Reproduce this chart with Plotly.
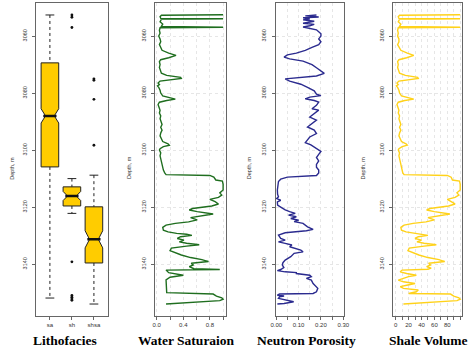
import plotly.graph_objects as go

# ---------------- Lithofacies boxplot statistics (depth, m) ----------------
facies = ["sa", "sh", "shsa"]
facies_pos = [1, 2, 3]
box_whisk_top = [3052.6, 3110.0, 3108.8]
box_q1 = [3069.4, 3112.9, 3119.9]
box_median = [3088.0, 3116.1, 3131.3]
box_q3 = [3105.9, 3119.6, 3139.6]
box_whisk_bot = [3151.9, 3122.2, 3154.0]
box_notchspan = [2.5, 1.6, 3.0]
outlier_pos = [2, 2, 2, 2, 2, 2, 2, 2, 3, 3, 3, 3]
outlier_depth = [3052.6, 3053.4, 3057.0, 3139.2, 3151.0, 3151.6, 3152.2, 3152.7,
                 3075.0, 3075.5, 3082.2, 3098.3]

# ---------------- Water saturation ----------------
sw_depth = [3052.5, 3052.7, 3053.2, 3053.8, 3053.9, 3054.1, 3055.0, 3055.8, 3056.6, 3056.9,
            3057.1, 3058.0, 3059.0, 3060.0, 3061.0, 3062.0, 3063.0, 3064.0, 3065.0, 3066.0,
            3066.8, 3067.6, 3068.3, 3069.0, 3070.0, 3071.0, 3072.0, 3073.0, 3073.8, 3074.5,
            3074.9, 3075.3, 3075.8, 3076.5, 3077.0, 3077.5, 3078.0, 3079.0, 3080.0, 3081.0,
            3081.6, 3082.1, 3082.6, 3083.2, 3084.0, 3085.0, 3086.0, 3087.0, 3088.0, 3089.0,
            3090.0, 3091.0, 3092.0, 3093.0, 3094.0, 3095.0, 3096.0, 3097.0, 3097.8, 3098.3,
            3098.8, 3099.5, 3100.0, 3101.0, 3102.0, 3103.0, 3104.0, 3105.0, 3106.0, 3107.0,
            3108.0, 3108.6, 3108.9, 3109.5, 3110.5, 3110.9, 3112.0, 3114.0, 3115.0, 3115.8,
            3116.6, 3117.3, 3118.1, 3118.9, 3119.6, 3120.5, 3121.0, 3121.6, 3122.4, 3123.0,
            3123.7, 3124.5, 3125.2, 3125.7, 3126.3, 3127.1, 3128.1, 3128.7, 3129.2, 3129.5,
            3129.9, 3130.4, 3131.0, 3131.6, 3132.2, 3132.7, 3133.2, 3133.7, 3134.4, 3135.3,
            3136.2, 3136.8, 3137.7, 3138.4, 3139.1, 3139.7, 3140.3, 3140.9, 3141.6, 3141.9,
            3142.1, 3143.0, 3143.9, 3144.6, 3145.5, 3147.0, 3148.5, 3150.0, 3150.5, 3151.2,
            3151.8, 3152.3, 3152.8, 3154.0]
sw_value = [1.00, 0.07, 0.05, 0.06, 1.00, 0.07, 0.05, 0.09, 0.07, 1.00,
            0.05, 0.04, 0.05, 0.03, 0.05, 0.06, 0.04, 0.06, 0.08, 0.18,
            0.29, 0.18, 0.06, 0.04, 0.05, 0.04, 0.06, 0.07, 0.15, 0.36,
            0.37, 0.22, 0.05, 0.02, 0.04, 0.01, 0.03, 0.05, 0.06, 0.09,
            0.22, 0.28, 0.15, 0.04, 0.02, 0.03, 0.05, 0.04, 0.06, 0.05,
            0.07, 0.08, 0.06, 0.08, 0.06, 0.05, 0.07, 0.09, 0.17, 0.19,
            0.10, 0.05, 0.04, 0.06, 0.05, 0.06, 0.07, 0.07, 0.08, 0.10,
            0.12, 0.14, 0.80, 0.86, 0.89, 0.99, 1.00, 1.00, 0.95, 0.98,
            0.93, 0.80, 0.88, 0.93, 0.83, 0.54, 0.49, 0.61, 0.85, 0.66,
            0.51, 0.61, 0.48, 0.28, 0.14, 0.09, 0.10, 0.17, 0.30, 0.45,
            0.53, 0.36, 0.31, 0.41, 0.34, 0.45, 0.64, 0.45, 0.22, 0.20,
            0.29, 0.37, 0.51, 0.68, 0.78, 0.52, 0.55, 0.49, 0.56, 0.95,
            0.14, 0.18, 0.40, 0.20, 0.14, 0.14, 0.15, 0.15, 0.85, 0.90,
            0.98, 1.00, 0.95, 0.14]

# ---------------- Neutron porosity ----------------
nphi_depth = [3052.6, 3052.9, 3053.3, 3053.6, 3054.0, 3054.3, 3054.8, 3055.2, 3055.5, 3055.9,
              3056.4, 3056.8, 3057.2, 3057.8, 3058.5, 3059.2, 3060.0, 3061.0, 3062.0, 3063.0,
              3064.0, 3065.0, 3066.0, 3066.6, 3067.4, 3068.0, 3068.8, 3070.0, 3071.1, 3072.3,
              3073.1, 3074.0, 3074.6, 3075.0, 3075.8, 3076.9, 3078.0, 3079.2, 3080.4, 3080.9,
              3081.4, 3082.0, 3082.6, 3083.2, 3084.3, 3085.5, 3086.0, 3087.2, 3088.4, 3089.5,
              3090.7, 3091.9, 3093.0, 3094.2, 3095.4, 3096.5, 3097.4, 3098.2, 3099.4, 3100.5,
              3101.5, 3102.6, 3103.8, 3105.0, 3106.0, 3107.0, 3108.0, 3108.9, 3109.5, 3110.2,
              3111.0, 3112.5, 3114.0, 3115.5, 3116.4, 3117.0, 3117.6, 3118.2, 3119.3, 3120.0,
              3121.0, 3121.6, 3122.2, 3122.8, 3123.4, 3124.0, 3124.6, 3125.1, 3125.7, 3126.9,
              3127.8, 3128.3, 3129.0, 3129.8, 3131.0, 3131.6, 3132.2, 3132.7, 3133.3, 3133.9,
              3135.1, 3135.7, 3136.2, 3137.4, 3138.6, 3139.5, 3140.3, 3141.2, 3141.9, 3142.3,
              3142.7, 3143.0, 3143.3, 3143.9, 3144.4, 3145.0, 3145.6, 3146.8, 3148.0, 3148.5,
              3149.7, 3150.3, 3150.5, 3150.9, 3151.2, 3151.5, 3152.0, 3152.6, 3153.2, 3153.8,
              3154.0]
nphi_value = [0.18, 0.13, 0.19, 0.12, 0.15, 0.12, 0.17, 0.14, 0.12, 0.17,
              0.15, 0.12, 0.15, 0.18, 0.19, 0.20, 0.20, 0.19, 0.20, 0.19,
              0.16, 0.13, 0.09, 0.05, 0.035, 0.06, 0.12, 0.16, 0.18, 0.20,
              0.215, 0.18, 0.08, 0.04, 0.06, 0.11, 0.14, 0.17, 0.18, 0.20,
              0.15, 0.13, 0.17, 0.19, 0.18, 0.16, 0.19, 0.17, 0.15, 0.18,
              0.16, 0.14, 0.17, 0.18, 0.15, 0.14, 0.13, 0.155, 0.18, 0.20,
              0.19, 0.18, 0.19, 0.18, 0.18, 0.19, 0.19, 0.18, 0.05, 0.02,
              0.01, 0.006, 0.005, 0.006, 0.01, 0.002, 0.02, 0.005, 0.006, 0.02,
              0.04, 0.06, 0.085, 0.055, 0.09, 0.065, 0.10, 0.08, 0.12, 0.14,
              0.165, 0.135, 0.04, 0.01, 0.02, 0.04, 0.01, 0.04, 0.07, 0.06,
              0.11, 0.12, 0.08, 0.065, 0.04, 0.03, 0.027, 0.034, 0.02, 0.005,
              0.04, 0.09, 0.09, 0.15, 0.157, 0.135, 0.157, 0.165, 0.18, 0.186,
              0.18, 0.165, 0.015, 0.005, 0.035, 0.015, 0.01, 0.04, 0.078, 0.035,
              0.005]

# ---------------- Shale volume ----------------
vsh_depth = [3052.5, 3052.7, 3053.2, 3053.8, 3053.9, 3054.1, 3055.0, 3055.8, 3056.6, 3056.9,
             3057.1, 3058.0, 3059.0, 3060.0, 3061.0, 3062.0, 3063.0, 3064.0, 3065.0, 3066.0,
             3066.8, 3067.6, 3068.3, 3069.0, 3070.0, 3071.0, 3072.0, 3073.0, 3073.8, 3074.5,
             3074.9, 3075.3, 3075.8, 3076.5, 3077.0, 3077.5, 3078.0, 3079.0, 3080.0, 3081.0,
             3081.6, 3082.1, 3082.6, 3083.2, 3084.0, 3085.0, 3086.0, 3087.0, 3088.0, 3089.0,
             3090.0, 3091.0, 3092.0, 3093.0, 3094.0, 3095.0, 3096.0, 3097.0, 3097.8, 3098.3,
             3098.8, 3099.5, 3100.0, 3101.0, 3102.0, 3103.0, 3104.0, 3105.0, 3106.0, 3107.0,
             3108.0, 3108.6, 3108.9, 3109.5, 3110.5, 3110.9, 3112.0, 3114.0, 3115.0, 3115.8,
             3116.6, 3117.3, 3118.1, 3118.9, 3119.6, 3120.5, 3121.0, 3121.6, 3122.4, 3123.0,
             3123.7, 3124.5, 3125.2, 3125.7, 3126.3, 3127.1, 3128.1, 3128.7, 3129.2, 3129.5,
             3129.9, 3130.4, 3131.0, 3131.6, 3132.2, 3132.7, 3133.2, 3133.7, 3134.4, 3135.3,
             3136.2, 3136.8, 3137.7, 3138.4, 3139.1, 3139.7, 3140.3, 3140.9, 3141.4, 3141.8,
             3142.1, 3142.7, 3143.3, 3143.9, 3144.4, 3145.0, 3145.6, 3146.2, 3146.8, 3147.4,
             3147.9, 3148.5, 3149.1, 3149.7, 3150.3, 3150.5, 3151.2, 3151.8, 3152.3, 3152.8,
             3154.0]
vsh_value = [100, 6, 4, 5, 100, 6, 4, 8, 6, 100,
             4, 3, 4, 3, 5, 5, 3, 5, 8, 18,
             28, 17, 5, 3, 4, 3, 5, 6, 15, 34,
             35, 20, 5, 2, 4, 1, 3, 5, 6, 9,
             21, 28, 14, 4, 2, 3, 5, 4, 6, 5,
             7, 8, 6, 8, 6, 5, 7, 9, 16, 18,
             10, 5, 4, 6, 5, 6, 7, 7, 8, 10,
             11, 13, 80, 86, 88, 99, 100, 100, 95, 98,
             92, 80, 87, 92, 82, 53, 48, 60, 84, 65,
             50, 60, 47, 27, 13, 8, 9, 16, 30, 44,
             50, 35, 30, 40, 33, 44, 63, 44, 21, 19,
             28, 36, 50, 67, 76, 51, 54, 48, 55, 50,
             10, 7, 17, 32, 20, 10, 4, 12, 30, 17,
             7, 12, 35, 32, 20, 85, 90, 98, 100, 95,
             12]

depth_ticks = [3060, 3080, 3100, 3120, 3140]
depth_range = [3158.2, 3048.4]

W, H = 474, 350
def px(x):
    return x / W
def py(y):
    return 1 - y / H

ydom = [py(316), py(3)]
xdoms = [[px(32), px(105)], [px(154), px(226)], [px(277), px(347)], [px(397), px(468)]]

fig = go.Figure()

# Boxplot (panel 1)
fig.add_trace(go.Box(
    x=facies_pos, q1=box_q1, median=box_median, q3=box_q3,
    lowerfence=box_q1, upperfence=box_q3, notched=True, notchspan=box_notchspan,
    notchwidth=0.25, width=0.8, boxpoints=False, fillcolor="#FFCC00",
    line=dict(color="#222222", width=1), whiskerwidth=0,
    xaxis="x", yaxis="y", showlegend=False, hoverinfo="skip"))

# whiskers (dotted) and caps
for i, p in enumerate(facies_pos):
    fig.add_trace(go.Scatter(x=[p, p], y=[box_whisk_top[i], box_q1[i]], mode="lines",
                             line=dict(color="#222222", width=1, dash="dot"),
                             xaxis="x", yaxis="y", showlegend=False))
    fig.add_trace(go.Scatter(x=[p, p], y=[box_q3[i], box_whisk_bot[i]], mode="lines",
                             line=dict(color="#222222", width=1, dash="dot"),
                             xaxis="x", yaxis="y", showlegend=False))
    for yv in (box_whisk_top[i], box_whisk_bot[i]):
        fig.add_trace(go.Scatter(x=[p - 0.2, p + 0.2], y=[yv, yv], mode="lines",
                                 line=dict(color="#222222", width=1),
                                 xaxis="x", yaxis="y", showlegend=False))
    fig.add_trace(go.Scatter(x=[p - 0.3, p + 0.3], y=[box_median[i], box_median[i]], mode="lines",
                             line=dict(color="#111111", width=2.5),
                             xaxis="x", yaxis="y", showlegend=False))

fig.add_trace(go.Scatter(x=outlier_pos, y=outlier_depth, mode="markers",
                         marker=dict(symbol="circle", size=2.8, color="#111111"),
                         xaxis="x", yaxis="y", showlegend=False))

fig.add_trace(go.Scatter(x=sw_value, y=sw_depth, mode="lines",
                         line=dict(color="#1f6e1f", width=1.4),
                         xaxis="x2", yaxis="y2", showlegend=False))
fig.add_trace(go.Scatter(x=nphi_value, y=nphi_depth, mode="lines",
                         line=dict(color="#2b2b8f", width=1.4),
                         xaxis="x3", yaxis="y3", showlegend=False))
fig.add_trace(go.Scatter(x=vsh_value, y=vsh_depth, mode="lines",
                         line=dict(color="#FFD21A", width=1.4),
                         xaxis="x4", yaxis="y4", showlegend=False))

axcommon = dict(showline=True, mirror=True, linecolor="#666666", linewidth=1,
                ticks="outside", ticklen=3, tickcolor="#666666", zeroline=False,
                tickfont=dict(family="Liberation Sans, Arial", size=6, color="#333333"))

def yaxis_cfg(i, grid):
    d = dict(axcommon)
    d.update(domain=ydom, range=depth_range, tickvals=depth_ticks,
             ticktext=[str(t) for t in depth_ticks], tickangle=-90,
             anchor="x" if i == 1 else "x%d" % i, ticklabelstandoff=3,
             showgrid=grid, gridcolor="#e6e6e6", griddash="dot", gridwidth=1,
             tickfont=dict(family="Liberation Sans, Arial", size=5.5, color="#333333"))
    return d

def xaxis_cfg(i, rng, tv, tt, grid):
    d = dict(axcommon)
    d.update(domain=xdoms[i - 1], range=rng, tickvals=tv, ticktext=tt, tickangle=0,
             anchor="y" if i == 1 else "y%d" % i,
             showgrid=grid, gridcolor="#e6e6e6", griddash="dot", gridwidth=1)
    return d

sw_ticks = [0, 0.2, 0.4, 0.6, 0.8, 1.0]
sw_labels = ["0.0", "", "0.4", "", "0.8", ""]
nphi_ticks = [0, 0.05, 0.10, 0.15, 0.20, 0.25, 0.30]
nphi_labels = ["0.00", "", "0.10", "", "0.20", "", "0.30"]
vsh_ticks = [0, 10, 20, 30, 40, 50, 60, 70, 80, 90, 100]
vsh_labels = ["0", "", "20", "", "40", "", "60", "", "80", "", ""]

layout = dict(
    width=W, height=H, margin=dict(l=0, r=0, t=0, b=0),
    paper_bgcolor="white", plot_bgcolor="white",
    xaxis=xaxis_cfg(1, [0.38, 3.62], facies_pos, facies, False),
    xaxis2=xaxis_cfg(2, [-0.02, 1.04], sw_ticks, sw_labels, True),
    xaxis3=xaxis_cfg(3, [-0.003, 0.303], nphi_ticks, nphi_labels, True),
    xaxis4=xaxis_cfg(4, [-4.5, 103], vsh_ticks, vsh_labels, True),
    yaxis=yaxis_cfg(1, False),
    yaxis2=yaxis_cfg(2, True),
    yaxis3=yaxis_cfg(3, True),
    yaxis4=yaxis_cfg(4, True),
)
fig.update_layout(**layout)

titles = ["Lithofacies", "Water Saturaion", "Neutron Porosity", "Shale Volume"]
title_x = [61, 186, 309, 433]
for t, xc in zip(titles, title_x):
    fig.add_annotation(text="<b>%s</b>" % t, x=px(xc), y=py(340), xref="paper", yref="paper",
                       showarrow=False, xanchor="center", yanchor="middle",
                       font=dict(family="Liberation Serif, Times New Roman", size=13.5, color="#000000"))

depth_lab_x = [7, 127, 250, 366]
for xc in depth_lab_x:
    fig.add_annotation(text="Depth, m", x=px(xc), y=py(168), xref="paper", yref="paper",
                       showarrow=False, textangle=-90, xanchor="center", yanchor="middle",
                       font=dict(family="Liberation Sans, Arial", size=5.5, color="#333333"))

fig.write_html("out.html")
